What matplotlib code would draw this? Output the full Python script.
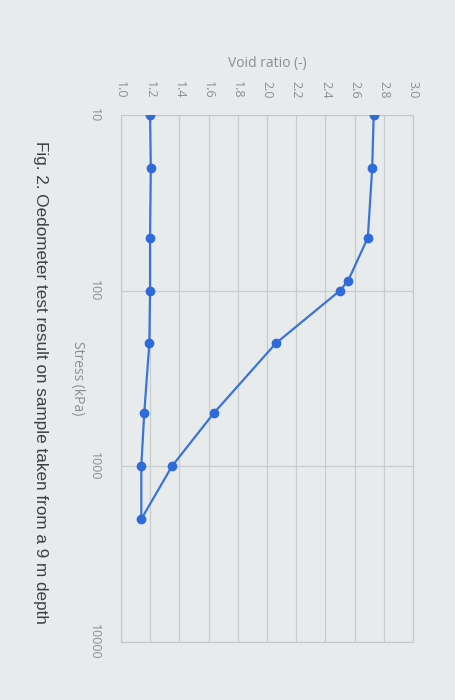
import numpy as np
import matplotlib
matplotlib.use("Agg")
import matplotlib.pyplot as plt

# oedometer data: loading then unloading (photo is rotated 90 deg clockwise)
stress = [10, 20, 50, 88, 100, 200, 500, 1000, 2000, 1000, 500, 200, 100, 50, 20, 10]
void_ratio = [2.73, 2.72, 2.69, 2.555, 2.50, 2.06, 1.635, 1.35, 1.14,
              1.14, 1.16, 1.195, 1.20, 1.20, 1.205, 1.20]

void_ticks = [1.0, 1.2, 1.4, 1.6, 1.8, 2.0, 2.2, 2.4, 2.6, 2.8, 3.0]
stress_ticks = [10, 100, 1000, 10000]

bg = '#e8ebec'
grey = '#8c8f91'
plt.rcParams['font.family'] = ['Open Sans', 'DejaVu Sans']

fig = plt.figure(figsize=(4.56, 7.0), dpi=100, facecolor=bg)
ax = fig.add_axes([0.265, 0.083, 0.641, 0.753], facecolor=bg)

ax.plot(void_ratio, stress, color='#3a74d8', lw=1.6, marker='o', ms=6,
        markerfacecolor='#2f6ad9', markeredgecolor='#2f6ad9', zorder=3)

ax.set_yscale('log')
ax.set_ylim(10000, 10)
ax.set_xlim(1.0, 3.0)
ax.set_xticks(void_ticks)
ax.set_xticklabels([f"{v:.1f}" for v in void_ticks], rotation=-90)
ax.set_yticks(stress_ticks)
ax.set_yticklabels([str(s) for s in stress_ticks], rotation=-90, va='center')
ax.minorticks_off()
ax.xaxis.tick_top()
ax.xaxis.set_label_position('top')
ax.tick_params(length=0, colors=grey, labelsize=9)
ax.tick_params(axis='x', pad=12)
ax.tick_params(axis='y', pad=14)
ax.grid(True, color='#c9cccd', lw=0.9)
for s in ax.spines.values():
    s.set_color('#c4c7c8')

ax.set_xlabel('Void ratio (-)', color=grey, fontsize=10)
ax.xaxis.set_label_coords(0.5, 1.09)
ax.set_ylabel('Stress (kPa)', color=grey, fontsize=10, rotation=-90)
ax.yaxis.set_label_coords(-0.175, 0.5)

fig.text(0.088, 0.454, 'Fig. 2. Oedometer test result on sample taken from a 9 m depth',
         rotation=-90, ha='center', va='center', fontsize=12.3, color='#3d3f42',
         family=['Liberation Sans', 'DejaVu Sans'])

fig.savefig('out.png', dpi=100, facecolor=bg)
